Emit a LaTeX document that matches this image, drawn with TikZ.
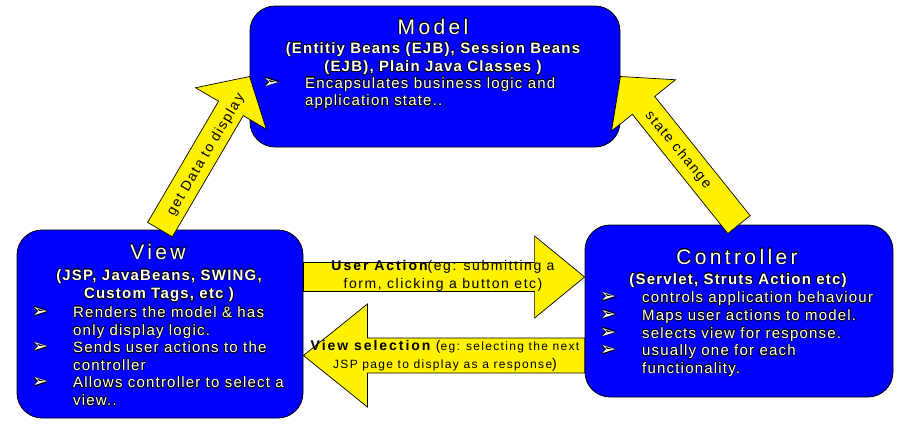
\documentclass[tikz,border=0pt]{standalone}
\usepackage{fontspec}
\setmainfont{Liberation Sans}
\newfontfamily\dingfont{DejaVu Sans}
\usepackage{contour}
\contourlength{0.6pt}
\contournumber{16}
\usetikzlibrary{calc}

\newcommand\wt[1]{\contour{black}{#1}}
\newcommand\bul{\wt{\dingfont\fontsize{19}{15}\selectfont ➢}}
\newcommand\blockarrow[5]{%
  \coordinate (hb) at ($(#2)!#5!(#1)$);
  \filldraw[arrowbody] ($(#1)!#3!90:(#2)$) -- ($(hb)!#3!90:(#2)$) -- ($(hb)!#4!90:(#2)$) -- (#2)
    -- ($(hb)!#4!-90:(#2)$) -- ($(hb)!#3!-90:(#2)$) -- ($(#1)!#3!-90:(#2)$) -- cycle;}

\begin{document}
\begin{tikzpicture}[x=1pt,y=-1pt,
    box/.style={draw=black,fill=blue,line width=0.8pt,rounded corners=25pt,inner sep=0},
    arrowbody/.style={draw=black,fill=yellow,line width=0.7pt,line join=miter},
    title/.style={text=white,inner sep=0,font=\fontsize{21}{24}\selectfont\addfontfeature{LetterSpace=16}},
    sub/.style={text=white,inner sep=0,align=center,font=\bfseries\fontsize{15}{18.5}\selectfont\addfontfeature{LetterSpace=8}},
    items/.style={text=white,inner sep=0,anchor=west,font=\fontsize{15}{17.6}\selectfont\addfontfeature{LetterSpace=8}},
    armtext/.style={inner sep=0,align=center,font=\fontsize{14}{18}\selectfont\addfontfeature{LetterSpace=11}}]
    \useasboundingbox (0,0) rectangle (900,426);

    \node[box,minimum width=370pt,minimum height=141pt](model) at (435,76.5){};
    \node[box,minimum width=286pt,minimum height=188pt](view) at (160,324){};
    \node[box,minimum width=308pt,minimum height=172pt](ctrl) at (739,311){};

    \node[title](modeltitle) at (433,27){\wt{Model}};
    \node[sub](modelsub) at (433,59){\wt{(Entitiy Beans (EJB), Session Beans}\\\wt{(EJB), Plain Java Classes )}};
    \node[items](modelitems) at (263,93.5){\begin{tabular}{@{}p{42pt}@{}l@{}}
        \bul & \wt{Encapsulates business logic and}\\
             & \wt{application state..}
    \end{tabular}};

    \node[title](viewtitle) at (158,252){\wt{View}};
    \node[sub](viewsub) at (159,286){\wt{(JSP, JavaBeans, SWING,}\\\wt{Custom Tags, etc )}};
    \node[items](viewitems) at (32,358){\begin{tabular}{@{}p{41pt}@{}l@{}}
        \bul & \wt{Renders the model \& has}\\
             & \wt{only display logic.}\\
        \bul & \wt{Sends user actions to the}\\
             & \wt{controller}\\
        \bul & \wt{Allows controller to select a}\\
             & \wt{view..}
    \end{tabular}};

    \node[title](ctrltitle) at (737,257){\wt{Controller}};
    \node[sub](ctrlsub) at (738,280.5){\wt{(Servlet, Struts Action etc)}};
    \node[items](ctrlitems) at (600,334.5){\begin{tabular}{@{}p{42pt}@{}l@{}}
        \bul & \wt{controls application behaviour}\\
        \bul & \wt{Maps user actions to model.}\\
        \bul & \wt{selects view for response.}\\
        \bul & \wt{usually one for each}\\
             & \wt{functionality.}
    \end{tabular}};

    \coordinate (ua0) at ([yshift=47pt]view.east);
    \coordinate (ua1) at ([yshift=34pt]ctrl.west);
    \coordinate (vs0) at ([yshift=-44.5pt]ctrl.west);
    \coordinate (vs1) at ([yshift=-31.5pt]view.east);

    \blockarrow{view.north}{model.west}{14.3pt}{41pt}{37pt}
    \blockarrow{ctrl.north}{model.east}{14.3pt}{41pt}{37pt}
    \blockarrow{ua0}{ua1}{14.5pt}{41pt}{50pt}
    \blockarrow{vs0}{vs1}{17.5pt}{51.5pt}{64pt}

    \node[armtext,rotate=59.5](getdata) at (206,155){get Data to display};
    \node[armtext,rotate=-50.5](statechange) at (678,150){state change};
    \node[armtext](useraction) at (443,276){{\bfseries\addfontfeature{LetterSpace=14}User Action}(eg: submitting a\\form, clicking a button etc)};
    \node[armtext](viewsel) at (445,356){{\bfseries\addfontfeature{LetterSpace=14}View selection} ({\fontsize{12}{18}\selectfont eg: selecting the next}\\{\fontsize{12}{18}\selectfont JSP page to display as a response})};
\end{tikzpicture}
\end{document}
